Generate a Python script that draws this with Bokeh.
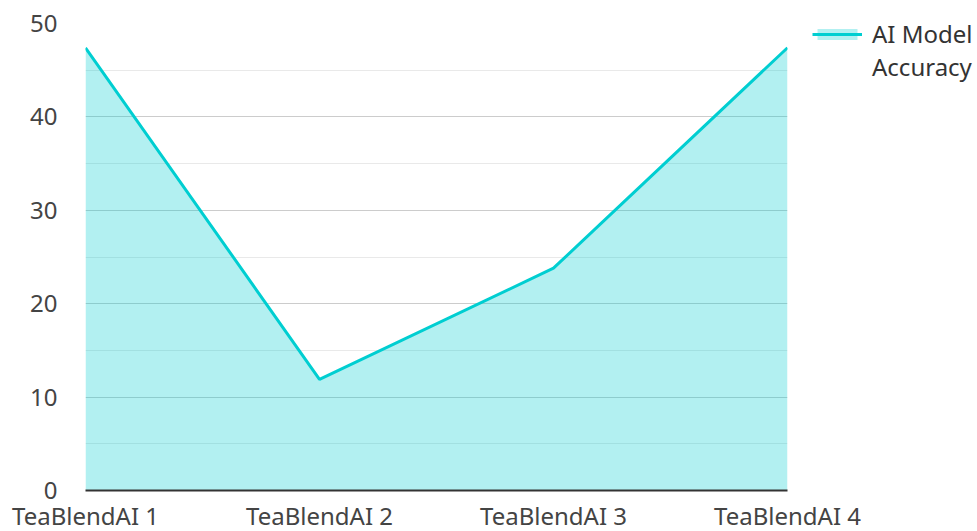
from bokeh.plotting import figure
from bokeh.models import FixedTicker, ColumnDataSource, Legend, LegendItem
from bokeh.embed import file_html
from bokeh.resources import INLINE

categories = ["TeaBlendAI 1", "TeaBlendAI 2", "TeaBlendAI 3", "TeaBlendAI 4"]
accuracy = [47.4, 11.9, 23.8, 47.4]
y_ticks = [0, 10, 20, 30, 40, 50]
y_minor = [5, 15, 25, 35, 45]
series_label_lines = ["AI Model", "Accuracy"]

xs = list(range(len(categories)))
src = ColumnDataSource(dict(x=xs, y=accuracy, y0=[0] * len(xs)))

p = figure(frame_width=702, frame_height=467, output_backend="svg", toolbar_location=None,
           x_range=(0, len(categories) - 1), y_range=(0, 50),
           min_border_left=85, min_border_right=10, min_border_top=23, min_border_bottom=41)
p.outline_line_color = None
p.background_fill_color = "white"
p.border_fill_color = "white"

font = "Noto Sans"
p.xaxis.ticker = FixedTicker(ticks=xs)
p.xaxis.major_label_overrides = {i: c for i, c in enumerate(categories)}
p.yaxis.ticker = FixedTicker(ticks=y_ticks, minor_ticks=y_minor)

for ax in (p.xaxis[0], p.yaxis[0]):
    ax.major_tick_line_color = None
    ax.minor_tick_line_color = None
    ax.major_label_text_font = font
    ax.major_label_text_font_size = "24px"
    ax.major_label_text_color = "#444444"
p.yaxis.axis_line_color = None
p.yaxis.major_label_standoff = 22
p.xaxis.axis_line_color = "#333333"
p.xaxis.axis_line_width = 2
p.xaxis.major_label_standoff = 2

p.xgrid.grid_line_color = None
p.ygrid.grid_line_color = "#cccccc"
p.ygrid.grid_line_width = 1
p.ygrid.minor_grid_line_color = "#e9e9e9"
p.ygrid.minor_grid_line_width = 1

area = p.varea(x="x", y1="y0", y2="y", source=src, fill_color="#00CED1", fill_alpha=0.3)
line = p.line(x="x", y="y", source=src, line_color="#00CED1", line_width=3)
# invisible renderer so the second label line has no glyph of its own
blank = p.scatter(x=[], y=[], alpha=0)

legend = Legend(items=[LegendItem(label=series_label_lines[0], renderers=[area, line]),
                       LegendItem(label=series_label_lines[1], renderers=[blank])],
                location=(25, 407), border_line_color=None, background_fill_alpha=0,
                label_text_font=font, label_text_font_size="24px", label_text_color="#333333",
                label_height=30, spacing=0,
                glyph_width=50, glyph_height=14, margin=0, padding=0, label_standoff=10)
p.add_layout(legend, "right")

open("out.html", "w").write(file_html(p, INLINE))
